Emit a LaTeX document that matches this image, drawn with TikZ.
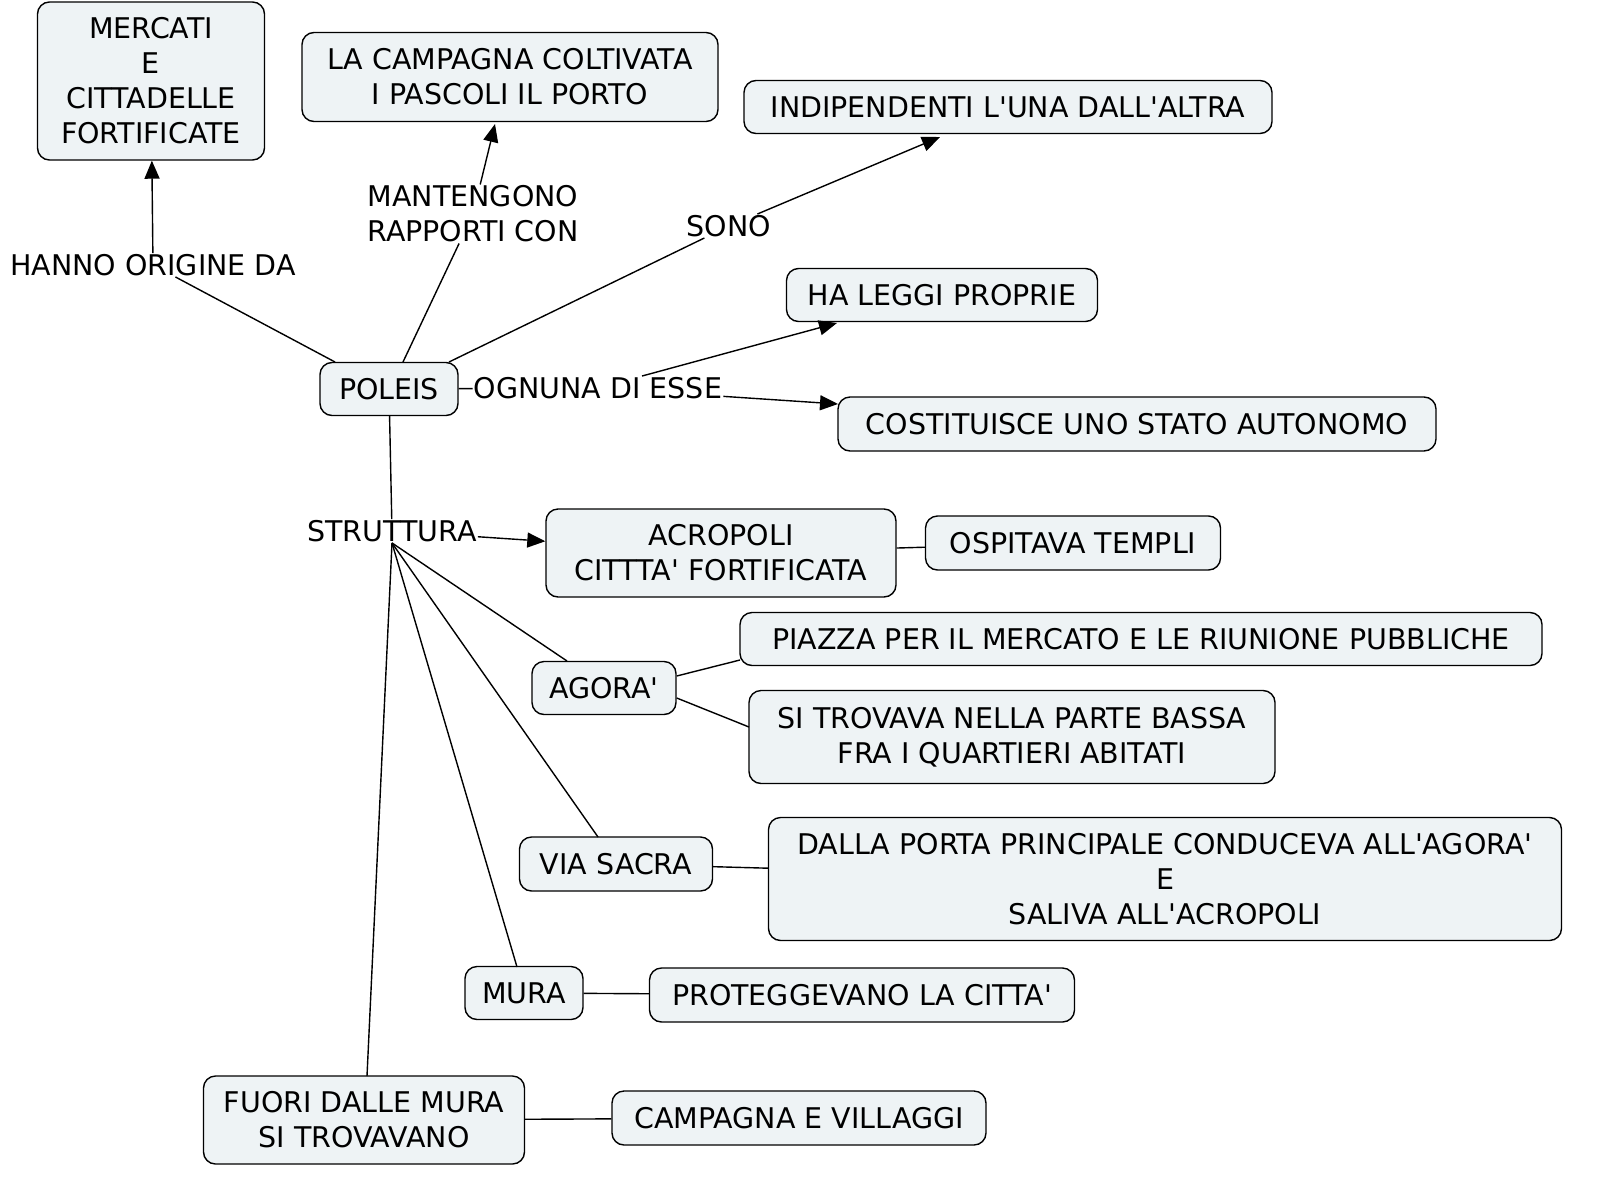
\documentclass[tikz,border=0pt]{standalone}
\usepackage{fontspec}
\setmainfont{DejaVu Sans}[Ligatures=TeXOff]
\usetikzlibrary{arrows.meta}
\definecolor{boxfill}{HTML}{EEF3F5}
\newcommand\ap{'}
\begin{document}
\begin{tikzpicture}[x=1pt,y=-1pt,
  box/.style 2 args={draw=black, line width=1.4pt, rounded corners=12pt, fill=boxfill, minimum width=#1, minimum height=#2, align=center, inner sep=0pt, font=\fontsize{28.5}{35}\selectfont},
  lab/.style={align=center, inner sep=1pt, fill=white, font=\fontsize{28.5}{35}\selectfont},
  ln/.style={line width=1.4pt},
  ar/.style={line width=1.4pt, -{Triangle[length=18pt,width=15pt]}}]
\useasboundingbox (0,0) rectangle (1600,1194);
\node[box={227pt}{158pt}] (merc) at (151,81) {MERCATI\\E\\CITTADELLE\\FORTIFICATE};
\node[box={416pt}{89pt}] (camp) at (510,77) {LA CAMPAGNA COLTIVATA\\I PASCOLI IL PORTO};
\node[box={528pt}{53pt}] (indi) at (1008,107) {INDIPENDENTI L\ap UNA DALL\ap ALTRA};
\node[box={311pt}{53pt}] (legg) at (942,295) {HA LEGGI PROPRIE};
\node[box={598pt}{54pt}] (cost) at (1137,424) {COSTITUISCE UNO STATO AUTONOMO};
\node[box={138pt}{53pt}] (pol) at (389,389) {POLEIS};
\node[box={350pt}{88pt}] (acro) at (721,553) {ACROPOLI\\CITTTA\ap{} FORTIFICATA};
\node[box={295pt}{54pt}] (osp) at (1073,543) {OSPITAVA TEMPLI};
\node[box={144pt}{53pt}] (ago) at (604,688) {AGORA\ap};
\node[box={802pt}{53pt}] (piaz) at (1141,639) {PIAZZA PER IL MERCATO E LE RIUNIONE PUBBLICHE};
\node[box={526pt}{93pt}] (sitr) at (1012,737) {SI TROVAVA NELLA PARTE BASSA\\FRA I QUARTIERI ABITATI};
\node[box={193pt}{54pt}] (via) at (616,864) {VIA SACRA};
\node[box={793pt}{123pt}] (dall) at (1165,879) {DALLA PORTA PRINCIPALE CONDUCEVA ALL\ap AGORA\ap\\E\\SALIVA ALL\ap ACROPOLI};
\node[box={118pt}{53pt}] (mura) at (524,993) {MURA};
\node[box={425pt}{54pt}] (prot) at (862,995) {PROTEGGEVANO LA CITTA\ap};
\node[box={321pt}{88pt}] (fuor) at (364,1120) {FUORI DALLE MURA\\SI TROVAVANO};
\node[box={374pt}{54pt}] (cv) at (799,1118) {CAMPAGNA E VILLAGGI};

\node[lab] (hanno) at (153,265) {HANNO ORIGINE DA};
\node[lab] (mant) at (473,214) {MANTENGONO\\RAPPORTI CON};
\node[lab] (sono) at (729,226) {SONO};
\node[lab] (ogn) at (598,388) {OGNUNA DI ESSE};
\node[lab] (str) at (392,531) {STRUTTURA};
\coordinate (pa) at (740,660);
\coordinate (sa) at (749,727);

\draw[ln] (335,362) -- (hanno);
\draw[ar] (hanno) -- (merc);
\draw[ln] (403,362) -- (mant);
\draw[ar] (mant) -- (495,124);
\draw[ln] (449,362) -- (sono);
\draw[ar] (sono) -- (940,137);
\draw[ln] (pol) -- (ogn);
\draw[ar] (ogn) -- (837,323);
\draw[ar] (ogn) -- (838,404);
\draw[ln] (pol) -- (str);
\draw[ar] (str) -- (acro);
\draw[ln] (str.south) -- (567,661);
\draw[ln] (str.south) -- (598,837);
\draw[ln] (str.south) -- (517,967);
\draw[ln] (str.south) -- (367,1076);
\draw[ln] (acro) -- (osp);
\draw[ln] (ago.east) ++(0,-12) -- (pa);
\draw[ln] (ago.east) ++(0,10) -- (sa);
\draw[ln] (via) -- (dall);
\draw[ln] (mura) -- (prot);
\draw[ln] (fuor) -- (cv);
\end{tikzpicture}
\end{document}
